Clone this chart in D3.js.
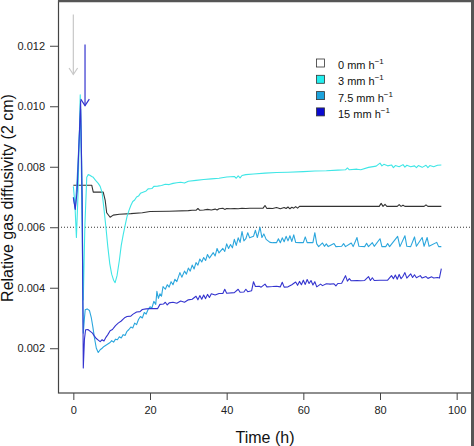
<!DOCTYPE html>
<html><head><meta charset="utf-8">
<script src="https://cdn.jsdelivr.net/npm/d3@7"></script>
<style>body{margin:0;background:#fff;}svg{display:block;font-family:"Liberation Sans",Arial,sans-serif;}</style>
</head><body><svg id="c" width="474" height="446"></svg>
<script>
// ---- data: [time (h), relative gas diffusivity] ----
const rain0 = [[0,0.00739],[4.8,0.00739],[5.2,0.00716],[7.8,0.00716],[8.3,0.00690],[8.7,0.00648],[9.6,0.00633],[10.4,0.00640],[12,0.00643],[15,0.00645],[18,0.00648],[20,0.00652],[25,0.00653],[30,0.00655],[31,0.00656],[32,0.00656],[32.5,0.00662],[33,0.00656],[34,0.00657],[35,0.00659],[36,0.00657],[37,0.00660],[37.5,0.00657],[38,0.00661],[39,0.00663],[39.5,0.00659],[40,0.00662],[41,0.00661],[42,0.00662],[43,0.00661],[44,0.00663],[45,0.00662],[46,0.00663],[48,0.00663],[49.5,0.00663],[50,0.00672],[50.5,0.00662],[51,0.00663],[52,0.00662],[53,0.00665],[54,0.00661],[55,0.00665],[55.5,0.00662],[56,0.00667],[56.5,0.00661],[57,0.00666],[57.5,0.00663],[58,0.00668],[58.5,0.00663],[59,0.00669],[62,0.00669],[65,0.00669],[70,0.00669],[75,0.00669],[79.8,0.00669],[80.3,0.00679],[80.8,0.00669],[81.3,0.00676],[81.8,0.00669],[84.5,0.00669],[85,0.00675],[85.5,0.00669],[86,0.00673],[86.5,0.00669],[91.5,0.00669],[92,0.00674],[92.5,0.00669],[96,0.00669]];

const rain3 = [[0,0.00735],[0.4,0.00680],[0.8,0.00566],[1.2,0.00700],[1.8,0.01038],[2.2,0.00800],[2.6,0.00360],[3.0,0.00600],[3.5,0.00765],[3.9,0.00774],[4.3,0.00772],[4.8,0.00768],[5.2,0.00765],[5.8,0.00755],[6.5,0.00745],[7.0,0.00735],[7.5,0.00715],[8.0,0.00660],[8.5,0.00600],[9.0,0.00535],[9.5,0.00480],[10.0,0.00445],[10.5,0.00425],[10.9,0.00417],[11.4,0.00440],[12.0,0.00490],[12.5,0.00540],[13.0,0.00575],[13.5,0.00605],[14.0,0.00635],[14.5,0.00655],[15.0,0.00672],[15.5,0.00685],[16.0,0.00690],[16.5,0.00700],[17.0,0.00703],[17.5,0.00712],[18,0.00715],[19,0.00720],[19.5,0.00727],[20.5,0.00728],[21,0.00735],[22,0.00736],[23,0.00738],[24,0.00742],[25,0.00741],[26,0.00745],[27,0.00747],[28,0.00749],[29,0.00746],[30,0.00752],[32,0.00755],[34,0.00758],[36,0.00760],[38,0.00762],[40,0.00766],[42,0.00768],[42.5,0.00762],[43,0.00770],[43.5,0.00763],[44,0.00771],[45,0.00774],[47,0.00776],[50,0.00779],[53,0.00781],[56,0.00782],[60,0.00784],[63,0.00786],[66,0.00787],[69,0.00789],[71,0.00790],[71.5,0.00796],[72,0.00790],[74,0.00792],[75,0.00790],[77,0.00798],[79,0.00802],[80,0.00812],[80.5,0.00803],[81,0.00808],[82,0.00803],[83,0.00806],[83.5,0.00797],[84,0.00804],[85,0.00800],[86,0.00807],[86.5,0.00799],[87,0.00805],[88,0.00800],[89,0.00803],[89.5,0.00797],[90,0.00804],[91,0.00798],[92,0.00805],[92.5,0.00797],[93,0.00804],[94,0.00800],[95,0.00805],[96,0.00806]];

const rain7 = [[0,0.00700],[0.5,0.00660],[1.0,0.00760],[1.9,0.00990],[2.3,0.00600],[2.6,0.00250],[2.9,0.00300],[3.1,0.00327],[3.6,0.00330],[4.2,0.00325],[4.7,0.00300],[5.1,0.00270],[5.5,0.00235],[6.0,0.00200],[6.5,0.00186],[7.0,0.00195],[7.5,0.00200],[8,0.00206],[8.5,0.00210],[9,0.00214],[9.6,0.00219],[10,0.00225],[10.5,0.00220],[11,0.00230],[11.5,0.00228],[12,0.00238],[12.5,0.00234],[13,0.00245],[13.5,0.00242],[14,0.00256],[14.5,0.00262],[15,0.00270],[15.5,0.00267],[16,0.00283],[16.5,0.00278],[17,0.00295],[17.5,0.00305],[18,0.00300],[18.5,0.00318],[19,0.00313],[19.5,0.00328],[20,0.00337],[20.5,0.00333],[21,0.00355],[21.5,0.00345],[21.8,0.00388],[22.2,0.00365],[22.6,0.00380],[23,0.00372],[23.4,0.00404],[24,0.00395],[24.5,0.00410],[25,0.00402],[25.5,0.00420],[26,0.00410],[26.5,0.00428],[27,0.00420],[27.8,0.00450],[28.3,0.00435],[29,0.00455],[29.5,0.00445],[30,0.00465],[30.5,0.00455],[31,0.00475],[31.5,0.00462],[32,0.00483],[32.5,0.00475],[33,0.00495],[33.5,0.00485],[34,0.00500],[34.5,0.00490],[35,0.00510],[35.5,0.00498],[36.5,0.00516],[37,0.00505],[37.5,0.00530],[38,0.00515],[39,0.00530],[39.5,0.00520],[40,0.00545],[40.5,0.00530],[41,0.00543],[41.5,0.00532],[42,0.00560],[42.5,0.00540],[43,0.00565],[43.5,0.00550],[44,0.00586],[44.5,0.00555],[45,0.00562],[45.5,0.00582],[46,0.00565],[47,0.00570],[47.5,0.00590],[48,0.00566],[48.7,0.00600],[49.2,0.00566],[49.7,0.00578],[50.3,0.00560],[51.3,0.00550],[52,0.00549],[53,0.00549],[53.5,0.00562],[54,0.00549],[54.5,0.00565],[55,0.00552],[55.5,0.00570],[56,0.00555],[56.5,0.00572],[57,0.00553],[57.5,0.00575],[58,0.00550],[59,0.00549],[60,0.00549],[60.5,0.00568],[61,0.00549],[62.5,0.00549],[63,0.00582],[63.5,0.00545],[64,0.00536],[65,0.00548],[65.5,0.00537],[66,0.00545],[66.5,0.00536],[68,0.00546],[68.5,0.00536],[70,0.00537],[70.5,0.00546],[71,0.00536],[72.5,0.00548],[73,0.00536],[74,0.00566],[74.5,0.00537],[76,0.00536],[76.5,0.00547],[77,0.00536],[78,0.00549],[78.5,0.00537],[80,0.00562],[80.5,0.00536],[81.5,0.00536],[82,0.00546],[82.5,0.00536],[84.6,0.00570],[85.2,0.00536],[86.5,0.00572],[87,0.00537],[88,0.00536],[89,0.00568],[89.5,0.00537],[91,0.00566],[91.5,0.00537],[92.3,0.00566],[92.8,0.00537],[94.8,0.00550],[95.3,0.00536],[96,0.00536]];

const rain15 = [[0,0.00698],[0.5,0.00659],[1.0,0.00720],[1.9,0.01018],[2.3,0.00700],[2.6,0.00135],[2.9,0.00230],[3.2,0.00261],[3.8,0.00262],[4.5,0.00255],[5.0,0.00250],[5.5,0.00240],[6.0,0.00232],[6.5,0.00227],[7.0,0.00222],[7.5,0.00228],[8.0,0.00224],[8.5,0.00236],[9.0,0.00245],[9.6,0.00258],[10.2,0.00262],[11.0,0.00275],[11.7,0.00283],[12.5,0.00290],[13.0,0.00296],[13.5,0.00302],[14.0,0.00305],[15.0,0.00306],[15.5,0.00312],[16.5,0.00320],[17.4,0.00321],[18,0.00328],[19,0.00330],[20,0.00331],[22,0.00331],[22.6,0.00345],[23.5,0.00346],[24,0.00352],[24.5,0.00343],[25,0.00350],[26,0.00352],[27,0.00349],[28,0.00356],[29,0.00352],[30,0.00360],[31,0.00362],[32,0.00372],[32.5,0.00360],[33,0.00374],[33.5,0.00362],[34,0.00376],[34.5,0.00364],[35,0.00378],[35.5,0.00368],[36,0.00380],[37,0.00376],[38,0.00381],[39,0.00381],[39.5,0.00395],[40,0.00382],[42,0.00384],[43,0.00395],[43.5,0.00385],[44.5,0.00386],[45,0.00395],[45.5,0.00387],[46.5,0.00390],[47,0.00420],[47.5,0.00404],[48.5,0.00405],[49,0.00402],[50,0.00412],[50.5,0.00403],[52,0.00404],[53,0.00405],[54,0.00403],[54.5,0.00418],[55,0.00402],[56,0.00403],[57,0.00410],[58,0.00419],[58.5,0.00408],[59,0.00421],[59.5,0.00410],[60,0.00425],[60.5,0.00411],[61,0.00427],[61.5,0.00414],[62,0.00424],[62.5,0.00409],[63,0.00420],[63.5,0.00403],[64.5,0.00412],[65,0.00407],[66,0.00413],[67,0.00412],[68,0.00413],[68.5,0.00406],[69,0.00414],[70,0.00415],[71,0.00440],[71.5,0.00422],[72,0.00430],[72.5,0.00423],[74,0.00424],[75,0.00423],[76,0.00424],[77,0.00437],[77.5,0.00424],[78,0.00433],[78.5,0.00424],[80,0.00425],[82,0.00425],[83,0.00440],[83.5,0.00430],[84,0.00442],[84.5,0.00428],[85,0.00444],[85.5,0.00430],[86,0.00438],[86.5,0.00450],[87,0.00432],[88,0.00446],[88.5,0.00434],[89,0.00443],[89.5,0.00433],[90.5,0.00440],[91,0.00432],[92,0.00437],[92.5,0.00431],[93.5,0.00436],[94,0.00432],[95,0.00434],[95.5,0.00432],[96,0.00463]];

const legendLabels = ["0", "3", "7.5", "15"];
const lineColors = ["#333333", "#3fe6e6", "#2ba6dd", "#3434cf"];
const legendFill = ["#ffffff", "#22eeee", "#1ca3dc", "#0a0ad0"];
const xTicks = [0, 20, 40, 60, 80, 100];
const yTicks = [0.002, 0.004, 0.006, 0.008, 0.010, 0.012];
const refLevel = 0.006;
const arrowsData = [{t: 0, from: 0.01303, to: 0.01105, color: "#c8c8c8"}, {t: 3.05, from: 0.01204, to: 0.01002, color: "#3434cf"}];

// ---- drawing ----
const svg = d3.select("#c");
const x = d3.scaleLinear().domain([-4, 104]).range([58, 472]);
const y = d3.scaleLinear().domain([0.00052, 0.01348]).range([393, 1]);

// reference dotted line
svg.append("line").attr("x1", x(-4)).attr("x2", x(104)).attr("y1", y(refLevel)).attr("y2", y(refLevel))
  .attr("stroke", "#333").attr("stroke-width", 1).attr("stroke-dasharray", "1,2");

const line = d3.line().x(d => x(d[0])).y(d => y(d[1]));
const series = [rain0, rain3, rain7, rain15];
const drawOrder = [0, 1, 2, 3];
drawOrder.forEach(i => {
  svg.append("path").datum(series[i]).attr("d", line).attr("fill", "none")
    .attr("stroke", lineColors[i]).attr("stroke-width", 1.1).attr("stroke-linejoin", "round");
});

// arrows
arrowsData.forEach(a => {
  const g = svg.append("g").attr("stroke", a.color).attr("stroke-width", 1.2).attr("fill", "none");
  const xt = x(a.t), y0 = y(a.from), y1 = y(a.to);
  g.append("line").attr("x1", xt).attr("x2", xt).attr("y1", y0).attr("y2", y1);
  g.append("path").attr("d", `M${xt - 4.3},${y1 - 6.5}L${xt},${y1}L${xt + 4.3},${y1 - 6.5}`);
});

// box
svg.append("rect").attr("x", 58.5).attr("y", 1).attr("width", 413.5).attr("height", 392)
  .attr("fill", "none").attr("stroke", "#444").attr("stroke-width", 1.2);
svg.append("line").attr("x1", 58).attr("x2", 474).attr("y1", 1).attr("y2", 1).attr("stroke", "#555").attr("stroke-width", 2.5);
svg.append("line").attr("x1", 472.5).attr("x2", 472.5).attr("y1", 0).attr("y2", 446).attr("stroke", "#555").attr("stroke-width", 3);

// axes
const xAxis = d3.axisBottom(x).tickValues(xTicks).tickSize(7).tickPadding(6).tickFormat(d3.format("d"));
const gx = svg.append("g").attr("transform", "translate(0,393)").call(xAxis);
gx.select(".domain").remove();
gx.selectAll("line").attr("stroke", "#444");
gx.selectAll("text").attr("font-size", 11).attr("fill", "#222").attr("font-family", "Liberation Sans, Arial, sans-serif");

const yAxis = d3.axisLeft(y).tickValues(yTicks).tickSize(8).tickPadding(5).tickFormat(d3.format(".3f"));
const gy = svg.append("g").attr("transform", "translate(58,0)").call(yAxis);
gy.select(".domain").remove();
gy.selectAll("line").attr("stroke", "#444");
gy.selectAll("text").attr("font-size", 11).attr("fill", "#222").attr("font-family", "Liberation Sans, Arial, sans-serif");

// axis titles
svg.append("text").attr("x", 265).attr("y", 443).attr("text-anchor", "middle")
  .attr("font-size", 16).attr("fill", "#111").text("Time (h)");
svg.append("text").attr("transform", "translate(13,198) rotate(-90)").attr("text-anchor", "middle")
  .attr("font-size", 16).attr("fill", "#111").text("Relative gas diffusivity (2 cm)");

// legend
const lg = svg.append("g");
legendLabels.forEach((lab, i) => {
  const cy = 63 + i * 16.3;
  lg.append("rect").attr("x", 316.5).attr("y", cy - 4).attr("width", 8).attr("height", 8)
    .attr("fill", legendFill[i]).attr("stroke", "#333").attr("stroke-width", 0.8);
  const t = lg.append("text").attr("x", 338).attr("y", cy + 6).attr("font-size", 11).attr("fill", "#111");
  t.append("tspan").text(lab + " mm h");
  t.append("tspan").attr("dy", -5).attr("font-size", 8).text("\u22121");
});
</script></body></html>
